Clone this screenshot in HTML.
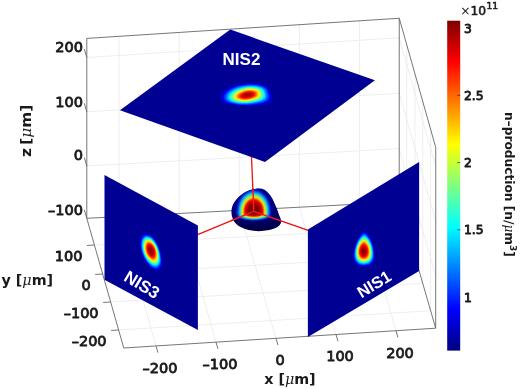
<!DOCTYPE html>
<html><head><meta charset="utf-8"><title>NIS figure</title>
<style>html,body{margin:0;padding:0;background:#fff;}svg{display:block;}</style>
</head><body>
<svg width="520" height="389" viewBox="0 0 520 389">
<defs>
<linearGradient id="jet" x1="0" y1="0" x2="0" y2="1">
<stop offset="0" stop-color="#800000"/>
<stop offset="0.125" stop-color="#ff0000"/>
<stop offset="0.375" stop-color="#ffff00"/>
<stop offset="0.5" stop-color="#80ff80"/>
<stop offset="0.625" stop-color="#00ffff"/>
<stop offset="0.875" stop-color="#0000ff"/>
<stop offset="1" stop-color="#000080"/>
</linearGradient>
<radialGradient id="spot" cx="0.5" cy="0.5" r="0.5">
<stop offset="0" stop-color="#8a0000"/>
<stop offset="0.18" stop-color="#d80000"/>
<stop offset="0.36" stop-color="#ff2a00"/>
<stop offset="0.48" stop-color="#ffd000"/>
<stop offset="0.56" stop-color="#a0ff60"/>
<stop offset="0.66" stop-color="#00e8ff"/>
<stop offset="0.78" stop-color="#0060ff"/>
<stop offset="0.9" stop-color="#0000c8"/>
<stop offset="1" stop-color="#000083"/>
</radialGradient>
<radialGradient id="core" cx="0.5" cy="0.5" r="0.5">
<stop offset="0" stop-color="#5a0000"/>
<stop offset="0.24" stop-color="#800000"/>
<stop offset="0.37" stop-color="#b80000"/>
<stop offset="0.46" stop-color="#f01000"/>
<stop offset="0.56" stop-color="#f8d800"/>
<stop offset="0.64" stop-color="#78f078"/>
<stop offset="0.73" stop-color="#10b8e8"/>
<stop offset="0.82" stop-color="#0838d8"/>
<stop offset="0.91" stop-color="#0000a0"/>
<stop offset="1" stop-color="#000086" stop-opacity="0"/>
</radialGradient>
<filter id="bl" x="0" y="0" width="520" height="389" filterUnits="userSpaceOnUse"><feGaussianBlur stdDeviation="0.6"/></filter>
<filter id="bl2" x="200" y="170" width="110" height="80" filterUnits="userSpaceOnUse"><feGaussianBlur stdDeviation="0.5"/></filter>
<clipPath id="blobclip"><path id="blobpath" d="M258.2,188.6 C263,188.3 266,190.5 268.3,193.1 C271.5,196.5 273,199.8 274.4,203.1 C276.2,207 277.8,210.8 279,214.7 C280.2,217.6 281.8,220.4 280.8,223.2 C279.6,226.2 276.6,227.8 272.9,229 C267.5,230.6 261.6,231.3 255.9,231.1 C250.2,230.6 244.8,229.4 240.5,227 C236.8,225 234.6,222.8 233.4,220 C231.8,216.8 231.2,213.4 231.5,210 C231.9,206 233.6,202.8 235.9,200 C238.4,196.8 241.6,194.4 245.1,192.3 C249.2,190.2 253.6,189 258.2,188.6 Z"/></clipPath>
<linearGradient id="blobshade" x1="0" y1="0" x2="0" y2="1">
<stop offset="0" stop-color="#00008a"/>
<stop offset="0.5" stop-color="#00007c"/>
<stop offset="0.75" stop-color="#00005a"/>
<stop offset="1" stop-color="#000038"/>
</linearGradient>
</defs>
<rect width="520" height="389" fill="#fff"/>
<line x1="156.00" y1="345.95" x2="119.10" y2="216.61" stroke="#eeeeee" stroke-width="1" />
<line x1="119.10" y1="216.61" x2="119.10" y2="36.32" stroke="#eeeeee" stroke-width="1" />
<line x1="216.00" y1="342.14" x2="179.18" y2="213.48" stroke="#eeeeee" stroke-width="1" />
<line x1="179.18" y1="213.48" x2="179.20" y2="32.44" stroke="#eeeeee" stroke-width="1" />
<line x1="276.00" y1="338.34" x2="239.27" y2="210.34" stroke="#eeeeee" stroke-width="1" />
<line x1="239.27" y1="210.34" x2="239.29" y2="28.57" stroke="#eeeeee" stroke-width="1" />
<line x1="336.00" y1="334.53" x2="299.36" y2="207.21" stroke="#eeeeee" stroke-width="1" />
<line x1="299.36" y1="207.21" x2="299.39" y2="24.69" stroke="#eeeeee" stroke-width="1" />
<line x1="396.00" y1="330.72" x2="359.44" y2="204.07" stroke="#eeeeee" stroke-width="1" />
<line x1="359.44" y1="204.07" x2="359.49" y2="20.81" stroke="#eeeeee" stroke-width="1" />
<line x1="94.41" y1="245.00" x2="406.71" y2="227.98" stroke="#eeeeee" stroke-width="1" />
<line x1="406.71" y1="227.98" x2="406.76" y2="44.86" stroke="#eeeeee" stroke-width="1" />
<line x1="102.67" y1="274.00" x2="414.88" y2="256.20" stroke="#eeeeee" stroke-width="1" />
<line x1="414.88" y1="256.20" x2="414.93" y2="73.76" stroke="#eeeeee" stroke-width="1" />
<line x1="110.65" y1="302.00" x2="422.75" y2="283.44" stroke="#eeeeee" stroke-width="1" />
<line x1="422.75" y1="283.44" x2="422.80" y2="101.66" stroke="#eeeeee" stroke-width="1" />
<line x1="118.62" y1="330.00" x2="430.63" y2="310.69" stroke="#eeeeee" stroke-width="1" />
<line x1="430.63" y1="310.69" x2="430.68" y2="129.56" stroke="#eeeeee" stroke-width="1" />
<line x1="86.80" y1="57.50" x2="399.24" y2="37.76" stroke="#eeeeee" stroke-width="1" />
<line x1="399.24" y1="37.76" x2="435.74" y2="166.68" stroke="#eeeeee" stroke-width="1" />
<line x1="86.80" y1="111.80" x2="399.23" y2="93.22" stroke="#eeeeee" stroke-width="1" />
<line x1="399.23" y1="93.22" x2="435.73" y2="221.23" stroke="#eeeeee" stroke-width="1" />
<line x1="86.80" y1="166.00" x2="399.21" y2="148.58" stroke="#eeeeee" stroke-width="1" />
<line x1="399.21" y1="148.58" x2="435.71" y2="275.67" stroke="#eeeeee" stroke-width="1" />
<line x1="86.80" y1="218.30" x2="86.80" y2="38.40" stroke="#686868" stroke-width="0.9" />
<line x1="86.80" y1="38.40" x2="399.25" y2="18.25" stroke="#686868" stroke-width="0.9" />
<line x1="399.25" y1="18.25" x2="399.20" y2="202.00" stroke="#686868" stroke-width="0.9" />
<line x1="399.25" y1="18.25" x2="435.75" y2="147.50" stroke="#686868" stroke-width="0.9" />
<line x1="435.75" y1="147.50" x2="435.70" y2="328.20" stroke="#686868" stroke-width="0.9" />
<line x1="86.80" y1="218.30" x2="123.75" y2="348.00" stroke="#686868" stroke-width="0.9" />
<line x1="123.75" y1="348.00" x2="435.70" y2="328.20" stroke="#686868" stroke-width="0.9" />
<line x1="435.70" y1="328.20" x2="399.20" y2="202.00" stroke="#686868" stroke-width="0.9" />
<line x1="86.80" y1="218.30" x2="399.20" y2="202.00" stroke="#686868" stroke-width="0.9" />
<line x1="156.00" y1="345.95" x2="157.91" y2="352.67" stroke="#686868" stroke-width="0.9" />
<line x1="216.00" y1="342.14" x2="217.91" y2="348.86" stroke="#686868" stroke-width="0.9" />
<line x1="276.00" y1="338.34" x2="277.91" y2="345.05" stroke="#686868" stroke-width="0.9" />
<line x1="336.00" y1="334.53" x2="337.91" y2="341.24" stroke="#686868" stroke-width="0.9" />
<line x1="396.00" y1="330.72" x2="397.91" y2="337.44" stroke="#686868" stroke-width="0.9" />
<line x1="94.41" y1="245.00" x2="86.92" y2="245.48" stroke="#686868" stroke-width="0.9" />
<line x1="102.67" y1="274.00" x2="95.18" y2="274.48" stroke="#686868" stroke-width="0.9" />
<line x1="110.65" y1="302.00" x2="103.16" y2="302.48" stroke="#686868" stroke-width="0.9" />
<line x1="118.62" y1="330.00" x2="111.14" y2="330.48" stroke="#686868" stroke-width="0.9" />
<line x1="86.80" y1="57.50" x2="84.30" y2="49.00" stroke="#686868" stroke-width="0.9" />
<line x1="86.80" y1="111.80" x2="84.30" y2="103.30" stroke="#686868" stroke-width="0.9" />
<line x1="86.80" y1="166.00" x2="84.30" y2="157.50" stroke="#686868" stroke-width="0.9" />
<line x1="86.80" y1="218.30" x2="84.30" y2="209.80" stroke="#686868" stroke-width="0.9" />
<polygon points="120,110.2 230.3,29.6 374.9,80.2 265,162" fill="#000092"/>
<line x1="253.80" y1="211.40" x2="251.50" y2="157.00" stroke="#f01010" stroke-width="1.3" />
<line x1="253.80" y1="211.40" x2="197.00" y2="234.80" stroke="#f01010" stroke-width="1.3" />
<line x1="253.80" y1="211.40" x2="309.00" y2="230.60" stroke="#f01010" stroke-width="1.3" />
<polygon points="104.5,175 197.9,225.5 197.9,330 104.5,279.7" fill="#000092"/>
<polygon points="307.9,229.6 419.1,162.1 419.1,271 307.9,337" fill="#000092"/>
<g filter="url(#bl)">
<polygon points="219.3,95.7 219.8,94.3 220.6,93.0 221.5,91.6 222.8,90.4 224.3,89.1 226.0,87.9 228.0,86.9 230.2,85.8 232.6,84.9 235.5,84.1 238.8,83.5 242.5,83.0 246.5,82.6 250.6,82.5 254.7,82.6 258.8,83.1 262.9,83.9 266.2,85.0 268.7,86.4 270.3,88.2 271.2,90.3 271.9,92.4 272.5,94.5 273.0,96.5 273.4,98.5 273.2,100.2 272.5,101.7 271.2,103.0 269.4,104.1 266.9,104.9 263.9,105.6 260.3,106.1 256.2,106.5 251.8,106.7 247.4,106.7 242.8,106.6 238.1,106.3 233.9,105.9 230.3,105.4 227.4,104.8 224.9,104.1 223.0,103.2 221.4,102.2 220.3,101.0 219.6,99.7 219.2,98.4 219.1,97.1" fill="#00009e"/>
<polygon points="220.9,95.8 221.3,94.5 222.0,93.3 222.9,92.1 224.0,90.9 225.4,89.7 226.9,88.7 228.7,87.6 230.8,86.7 233.1,85.8 235.8,85.0 239.0,84.3 242.6,83.7 246.7,83.2 250.8,83.1 254.9,83.3 258.8,83.8 262.6,84.5 265.6,85.6 267.8,86.9 269.3,88.6 270.1,90.5 270.7,92.5 271.3,94.4 271.7,96.2 272.0,98.0 271.8,99.6 271.2,101.0 270.0,102.2 268.3,103.2 266.1,104.0 263.3,104.7 259.9,105.3 256.0,105.7 251.7,106.0 247.2,106.1 242.6,106.0 238.0,105.7 234.1,105.3 230.8,104.8 228.1,104.2 225.9,103.5 224.2,102.7 222.8,101.8 221.7,100.7 221.1,99.5 220.8,98.3 220.7,97.1" fill="#0000c6"/>
<polygon points="222.4,95.9 222.8,94.7 223.4,93.6 224.2,92.5 225.2,91.4 226.5,90.3 227.9,89.3 229.6,88.4 231.5,87.4 233.6,86.6 236.1,85.8 239.1,85.0 242.7,84.4 246.9,83.9 251.0,83.7 254.9,83.9 258.6,84.4 262.2,85.2 264.9,86.2 267.0,87.4 268.3,88.9 269.0,90.7 269.6,92.5 270.0,94.2 270.4,95.9 270.7,97.6 270.5,99.1 269.8,100.4 268.7,101.5 267.2,102.4 265.2,103.2 262.6,103.8 259.5,104.4 255.7,104.9 251.6,105.3 247.1,105.5 242.5,105.5 238.0,105.2 234.4,104.7 231.4,104.2 228.9,103.6 227.0,103.0 225.4,102.2 224.1,101.4 223.2,100.4 222.6,99.3 222.3,98.2 222.2,97.0" fill="#0000f1"/>
<polygon points="223.9,96.0 224.3,94.9 224.9,93.9 225.6,92.9 226.5,91.9 227.6,90.9 228.9,90.0 230.4,89.1 232.1,88.2 234.1,87.4 236.5,86.6 239.4,85.8 242.9,85.1 247.0,84.5 251.1,84.4 254.9,84.6 258.4,85.1 261.7,85.8 264.2,86.7 266.0,87.9 267.3,89.3 267.9,91.0 268.4,92.6 268.8,94.2 269.1,95.7 269.3,97.2 269.1,98.5 268.5,99.7 267.5,100.7 266.1,101.6 264.2,102.3 261.9,103.0 259.0,103.6 255.4,104.2 251.4,104.6 246.9,104.9 242.4,104.9 238.1,104.6 234.7,104.1 232.0,103.6 229.8,103.1 228.0,102.5 226.6,101.8 225.5,101.0 224.6,100.1 224.1,99.1 223.9,98.0 223.8,97.0" fill="#002aff"/>
<polygon points="225.5,96.1 225.8,95.1 226.3,94.2 227.0,93.3 227.8,92.3 228.8,91.4 229.9,90.6 231.3,89.7 232.9,88.9 234.7,88.1 236.9,87.3 239.7,86.5 243.0,85.8 247.1,85.2 251.2,85.0 254.9,85.2 258.2,85.7 261.2,86.5 263.4,87.3 265.1,88.4 266.2,89.7 266.7,91.2 267.1,92.6 267.5,94.1 267.7,95.5 267.9,96.9 267.7,98.1 267.1,99.1 266.2,100.1 265.0,100.9 263.3,101.6 261.2,102.2 258.5,102.8 255.1,103.4 251.2,104.0 246.8,104.3 242.3,104.3 238.2,104.0 235.1,103.5 232.6,103.0 230.6,102.5 229.1,101.9 227.8,101.3 226.8,100.5 226.1,99.7 225.7,98.8 225.4,97.9 225.4,97.0" fill="#0063ff"/>
<polygon points="227.0,96.1 227.3,95.3 227.8,94.4 228.3,93.6 229.1,92.8 229.9,91.9 231.0,91.1 232.2,90.4 233.7,89.6 235.3,88.8 237.4,88.0 240.0,87.3 243.2,86.5 247.2,85.9 251.2,85.7 254.8,85.9 257.8,86.4 260.6,87.1 262.6,87.9 264.1,88.9 265.0,90.1 265.5,91.4 265.9,92.7 266.2,94.0 266.4,95.3 266.5,96.5 266.3,97.6 265.8,98.6 265.0,99.4 263.8,100.2 262.3,100.8 260.4,101.5 257.9,102.1 254.8,102.7 251.1,103.3 246.7,103.7 242.3,103.7 238.5,103.4 235.6,102.9 233.3,102.4 231.6,101.9 230.2,101.4 229.1,100.8 228.2,100.1 227.6,99.4 227.2,98.6 227.0,97.8 226.9,96.9" fill="#00a6ff"/>
<polygon points="228.6,96.1 228.8,95.4 229.2,94.6 229.7,93.9 230.4,93.1 231.1,92.4 232.1,91.7 233.2,90.9 234.5,90.2 236.0,89.5 237.9,88.7 240.3,88.0 243.4,87.2 247.3,86.6 251.2,86.4 254.6,86.6 257.4,87.1 259.9,87.7 261.7,88.5 263.0,89.4 263.9,90.4 264.3,91.7 264.6,92.8 264.9,94.0 265.0,95.1 265.1,96.2 264.9,97.2 264.4,98.1 263.7,98.8 262.7,99.5 261.3,100.1 259.6,100.7 257.4,101.4 254.4,102.0 250.9,102.7 246.7,103.1 242.4,103.1 238.7,102.8 236.1,102.3 234.1,101.8 232.5,101.4 231.3,100.9 230.3,100.3 229.6,99.7 229.0,99.1 228.7,98.4 228.5,97.6 228.5,96.9" fill="#00e9ff"/>
<polygon points="230.1,96.2 230.3,95.5 230.7,94.8 231.1,94.2 231.7,93.5 232.4,92.8 233.2,92.2 234.2,91.5 235.3,90.8 236.7,90.1 238.4,89.4 240.7,88.7 243.7,87.9 247.4,87.2 251.1,87.0 254.3,87.2 257.0,87.7 259.2,88.4 260.8,89.1 261.9,89.9 262.7,90.8 263.1,91.9 263.3,93.0 263.5,94.0 263.6,95.0 263.7,96.0 263.5,96.8 263.1,97.6 262.4,98.3 261.5,98.9 260.3,99.5 258.7,100.1 256.7,100.7 254.0,101.3 250.6,102.0 246.6,102.5 242.5,102.5 239.1,102.2 236.7,101.7 234.9,101.3 233.5,100.8 232.5,100.4 231.6,99.9 231.0,99.3 230.5,98.8 230.2,98.1 230.1,97.5 230.0,96.8" fill="#30ffcf"/>
<polygon points="231.7,96.2 231.9,95.6 232.2,95.0 232.5,94.4 233.0,93.8 233.6,93.2 234.3,92.6 235.2,92.0 236.2,91.4 237.4,90.8 239.0,90.1 241.1,89.3 243.9,88.6 247.5,87.9 251.0,87.7 254.0,87.9 256.5,88.4 258.4,89.0 259.8,89.6 260.8,90.4 261.5,91.2 261.8,92.2 262.0,93.1 262.2,94.0 262.2,94.9 262.2,95.7 262.1,96.5 261.7,97.2 261.1,97.8 260.3,98.3 259.2,98.9 257.9,99.4 256.1,100.0 253.6,100.7 250.4,101.4 246.6,101.9 242.7,101.9 239.5,101.6 237.3,101.1 235.8,100.7 234.6,100.3 233.7,99.9 233.0,99.4 232.4,98.9 232.0,98.4 231.8,97.9 231.6,97.3 231.6,96.7" fill="#76ff89"/>
<polygon points="233.2,96.1 233.4,95.6 233.6,95.1 234.0,94.6 234.4,94.1 234.9,93.6 235.5,93.0 236.2,92.5 237.1,91.9 238.2,91.3 239.7,90.7 241.6,90.0 244.2,89.2 247.5,88.6 250.8,88.4 253.6,88.6 255.9,89.1 257.6,89.6 258.8,90.2 259.7,90.9 260.2,91.6 260.5,92.4 260.7,93.2 260.8,94.0 260.8,94.8 260.8,95.5 260.6,96.2 260.3,96.8 259.8,97.3 259.1,97.8 258.2,98.3 257.0,98.8 255.4,99.4 253.1,100.1 250.2,100.7 246.6,101.3 242.9,101.3 240.0,101.0 238.1,100.5 236.7,100.1 235.7,99.7 234.9,99.4 234.3,99.0 233.8,98.6 233.5,98.1 233.3,97.6 233.2,97.1 233.2,96.6" fill="#c2ff3d"/>
<polygon points="234.8,96.1 234.9,95.7 235.1,95.2 235.4,94.8 235.7,94.3 236.2,93.9 236.7,93.4 237.3,92.9 238.1,92.4 239.1,91.9 240.3,91.3 242.1,90.6 244.5,89.9 247.6,89.3 250.6,89.1 253.2,89.3 255.2,89.7 256.7,90.2 257.8,90.8 258.5,91.4 258.9,92.0 259.2,92.7 259.3,93.4 259.4,94.1 259.4,94.7 259.4,95.4 259.2,95.9 258.9,96.5 258.5,96.9 257.9,97.4 257.1,97.8 256.1,98.3 254.6,98.8 252.6,99.4 249.9,100.1 246.6,100.6 243.2,100.7 240.5,100.3 238.8,99.9 237.7,99.5 236.8,99.2 236.2,98.9 235.7,98.5 235.3,98.2 235.0,97.8 234.8,97.4 234.7,96.9 234.7,96.5" fill="#ffee00"/>
<polygon points="236.3,96.0 236.4,95.7 236.6,95.3 236.8,94.9 237.1,94.6 237.5,94.2 237.9,93.8 238.5,93.4 239.1,92.9 239.9,92.4 241.1,91.9 242.6,91.3 244.8,90.6 247.6,90.0 250.4,89.9 252.7,90.0 254.5,90.4 255.8,90.9 256.6,91.3 257.2,91.8 257.6,92.4 257.8,93.0 257.9,93.6 258.0,94.1 258.0,94.7 257.9,95.2 257.8,95.7 257.5,96.2 257.1,96.6 256.6,96.9 256.0,97.3 255.1,97.7 253.9,98.2 252.1,98.8 249.7,99.5 246.6,100.0 243.5,100.0 241.1,99.7 239.7,99.3 238.7,99.0 238.0,98.7 237.4,98.4 237.0,98.1 236.7,97.8 236.5,97.5 236.4,97.1 236.3,96.8 236.3,96.4" fill="#ffa200"/>
<polygon points="237.9,96.0 238.0,95.7 238.1,95.4 238.3,95.1 238.5,94.8 238.8,94.4 239.2,94.1 239.6,93.7 240.2,93.3 240.9,92.9 241.8,92.4 243.2,91.9 245.1,91.3 247.6,90.7 250.1,90.6 252.2,90.7 253.7,91.1 254.8,91.5 255.5,91.9 256.0,92.3 256.3,92.8 256.4,93.3 256.5,93.7 256.5,94.2 256.5,94.7 256.5,95.1 256.3,95.5 256.1,95.9 255.8,96.2 255.4,96.6 254.8,96.9 254.1,97.3 253.1,97.7 251.5,98.3 249.4,98.9 246.6,99.3 243.9,99.4 241.8,99.1 240.6,98.7 239.7,98.4 239.2,98.2 238.8,97.9 238.4,97.7 238.2,97.4 238.0,97.1 237.9,96.8 237.9,96.6 237.9,96.3" fill="#ff5300"/>
<polygon points="239.5,95.9 239.5,95.7 239.6,95.4 239.8,95.2 239.9,94.9 240.2,94.6 240.5,94.4 240.8,94.1 241.3,93.7 241.8,93.4 242.6,92.9 243.8,92.5 245.4,91.9 247.6,91.5 249.8,91.3 251.5,91.5 252.8,91.8 253.7,92.1 254.3,92.5 254.7,92.8 254.9,93.2 255.0,93.6 255.1,94.0 255.1,94.3 255.1,94.7 255.0,95.1 254.9,95.4 254.7,95.7 254.4,95.9 254.1,96.2 253.7,96.5 253.1,96.8 252.2,97.2 250.9,97.7 249.1,98.3 246.7,98.7 244.4,98.7 242.6,98.5 241.5,98.2 240.9,97.9 240.4,97.7 240.1,97.4 239.9,97.2 239.7,97.0 239.5,96.8 239.5,96.6 239.4,96.4 239.4,96.1" fill="#ff1700"/>
<polygon points="241.0,95.8 241.1,95.6 241.1,95.4 241.2,95.2 241.4,95.0 241.6,94.8 241.8,94.6 242.0,94.4 242.4,94.1 242.8,93.8 243.5,93.4 244.4,93.0 245.8,92.6 247.6,92.2 249.4,92.1 250.9,92.2 251.9,92.4 252.6,92.7 253.0,93.0 253.3,93.3 253.5,93.6 253.6,93.9 253.6,94.2 253.6,94.5 253.6,94.8 253.5,95.0 253.4,95.3 253.3,95.5 253.1,95.7 252.8,95.9 252.5,96.2 252.0,96.4 251.4,96.8 250.3,97.2 248.8,97.6 246.8,98.0 244.8,98.0 243.4,97.8 242.6,97.6 242.0,97.3 241.7,97.2 241.5,97.0 241.3,96.8 241.2,96.7 241.1,96.5 241.0,96.3 241.0,96.1 241.0,96.0" fill="#e60000"/>
<polygon points="242.6,95.7 242.6,95.5 242.7,95.4 242.7,95.3 242.8,95.1 242.9,95.0 243.1,94.8 243.3,94.6 243.6,94.4 243.9,94.2 244.4,93.9 245.1,93.6 246.1,93.2 247.6,92.9 249.0,92.8 250.1,92.9 250.9,93.1 251.4,93.3 251.7,93.5 251.9,93.7 252.0,94.0 252.1,94.2 252.1,94.4 252.1,94.6 252.1,94.8 252.0,95.0 252.0,95.2 251.8,95.4 251.7,95.5 251.5,95.7 251.3,95.9 250.9,96.1 250.4,96.3 249.6,96.7 248.5,97.0 246.9,97.3 245.4,97.4 244.3,97.2 243.6,97.0 243.3,96.8 243.0,96.7 242.9,96.5 242.8,96.4 242.7,96.3 242.6,96.2 242.6,96.1 242.6,95.9 242.6,95.8" fill="#bf0000"/>
<polygon points="244.1,95.5 244.2,95.5 244.2,95.4 244.2,95.3 244.3,95.2 244.4,95.1 244.5,95.0 244.6,94.8 244.8,94.7 245.0,94.5 245.3,94.4 245.8,94.1 246.5,93.9 247.5,93.7 248.5,93.6 249.3,93.6 249.8,93.8 250.2,93.9 250.4,94.1 250.5,94.2 250.6,94.4 250.6,94.5 250.6,94.6 250.6,94.8 250.6,94.9 250.5,95.0 250.5,95.2 250.4,95.3 250.3,95.4 250.2,95.5 250.0,95.6 249.8,95.7 249.5,95.9 249.0,96.2 248.1,96.4 247.1,96.6 246.0,96.7 245.2,96.6 244.8,96.4 244.6,96.3 244.4,96.2 244.3,96.1 244.2,96.0 244.2,95.9 244.2,95.9 244.1,95.8 244.1,95.7 244.1,95.6" fill="#a00000"/>
<polygon points="245.7,95.4 245.7,95.3 245.7,95.3 245.7,95.3 245.8,95.2 245.8,95.2 245.9,95.1 245.9,95.0 246.0,95.0 246.1,94.9 246.3,94.8 246.5,94.7 246.9,94.5 247.5,94.4 248.0,94.4 248.4,94.4 248.7,94.5 248.9,94.5 249.0,94.6 249.0,94.7 249.1,94.8 249.1,94.8 249.1,94.9 249.1,95.0 249.1,95.0 249.0,95.1 249.0,95.2 249.0,95.2 248.9,95.3 248.9,95.3 248.8,95.4 248.7,95.5 248.5,95.6 248.2,95.7 247.8,95.8 247.2,96.0 246.6,96.0 246.2,95.9 246.0,95.8 245.9,95.8 245.8,95.7 245.8,95.7 245.7,95.6 245.7,95.6 245.7,95.5 245.7,95.5 245.7,95.5 245.7,95.4" fill="#8e0000"/>
<polygon points="367.1,231.6 368.4,233.1 369.5,234.7 370.6,236.5 371.5,238.5 372.4,240.6 373.2,242.8 373.9,245.2 374.5,247.6 375.1,250.2 375.4,252.5 375.7,254.7 375.7,256.6 375.6,258.3 375.3,259.9 374.8,261.4 374.2,262.7 373.3,264.0 372.2,265.1 370.8,266.0 369.1,266.6 367.2,267.1 365.3,267.4 363.5,267.5 361.8,267.5 360.1,267.2 358.5,266.7 357.2,266.0 355.9,265.2 354.9,264.1 354.0,262.9 353.4,261.5 352.9,259.9 352.6,258.2 352.5,256.4 352.5,254.5 352.8,252.5 353.2,250.4 353.8,248.2 354.5,246.0 355.2,243.7 356.1,241.4 357.1,239.2 358.0,237.3 358.9,235.6 359.8,234.1 360.8,232.9 361.8,231.8 362.7,231.0 363.7,230.3 364.8,230.2 365.9,230.7" fill="#00009e"/>
<polygon points="366.9,232.7 368.1,234.0 369.2,235.5 370.2,237.1 371.1,239.0 371.9,241.0 372.7,243.1 373.4,245.4 374.0,247.8 374.5,250.3 374.8,252.6 375.0,254.6 375.0,256.5 374.9,258.1 374.6,259.6 374.1,260.9 373.4,262.2 372.6,263.4 371.6,264.4 370.3,265.2 368.8,265.9 367.0,266.3 365.2,266.6 363.5,266.7 361.9,266.6 360.3,266.4 358.9,265.9 357.6,265.3 356.5,264.5 355.5,263.5 354.7,262.3 354.0,261.1 353.6,259.6 353.3,258.0 353.1,256.3 353.1,254.5 353.3,252.6 353.7,250.5 354.2,248.3 354.8,246.1 355.6,243.9 356.5,241.6 357.4,239.6 358.3,237.8 359.2,236.3 360.1,234.9 361.0,233.8 361.9,232.8 362.8,232.1 363.7,231.5 364.7,231.4 365.8,231.8" fill="#0000cf"/>
<polygon points="366.6,233.7 367.7,234.9 368.8,236.3 369.7,237.8 370.6,239.5 371.5,241.3 372.2,243.4 372.9,245.6 373.5,247.9 373.9,250.4 374.2,252.6 374.3,254.6 374.3,256.3 374.1,257.8 373.8,259.2 373.4,260.5 372.7,261.7 372.0,262.8 371.0,263.7 369.8,264.5 368.4,265.1 366.7,265.5 365.1,265.8 363.6,265.9 362.0,265.8 360.6,265.6 359.3,265.1 358.1,264.6 357.0,263.8 356.1,262.9 355.3,261.8 354.7,260.6 354.3,259.3 353.9,257.8 353.8,256.2 353.7,254.5 353.9,252.6 354.2,250.6 354.6,248.5 355.2,246.3 356.0,244.1 356.9,241.9 357.8,240.0 358.6,238.4 359.5,237.0 360.3,235.7 361.2,234.7 362.0,233.8 362.9,233.2 363.7,232.7 364.6,232.6 365.6,232.9" fill="#000cff"/>
<polygon points="366.4,234.8 367.4,235.8 368.4,237.1 369.3,238.4 370.2,240.0 371.0,241.7 371.7,243.7 372.4,245.8 373.0,248.1 373.4,250.5 373.6,252.6 373.6,254.5 373.6,256.2 373.4,257.6 373.1,258.9 372.6,260.1 372.1,261.2 371.4,262.2 370.4,263.0 369.3,263.7 368.0,264.3 366.5,264.7 365.0,265.0 363.6,265.1 362.2,265.0 360.8,264.7 359.6,264.4 358.5,263.8 357.5,263.1 356.7,262.3 356.0,261.3 355.4,260.2 354.9,258.9 354.6,257.5 354.4,256.0 354.4,254.4 354.4,252.6 354.7,250.7 355.1,248.6 355.6,246.5 356.4,244.3 357.2,242.3 358.1,240.5 359.0,239.0 359.8,237.7 360.6,236.6 361.4,235.6 362.2,234.9 362.9,234.3 363.7,233.8 364.6,233.8 365.4,234.1" fill="#0050ff"/>
<polygon points="366.2,235.8 367.1,236.8 368.0,237.9 368.9,239.1 369.7,240.5 370.5,242.2 371.3,244.0 371.9,246.0 372.4,248.3 372.8,250.6 373.0,252.7 373.0,254.4 372.9,256.0 372.7,257.3 372.4,258.5 371.9,259.6 371.4,260.6 370.7,261.5 369.9,262.3 368.9,263.0 367.7,263.5 366.3,263.9 364.9,264.1 363.6,264.2 362.3,264.1 361.1,263.9 359.9,263.6 358.9,263.0 358.0,262.4 357.2,261.6 356.6,260.7 356.0,259.7 355.6,258.6 355.3,257.3 355.0,255.9 355.0,254.3 355.0,252.6 355.2,250.8 355.5,248.8 356.1,246.7 356.8,244.6 357.6,242.6 358.5,241.0 359.3,239.6 360.1,238.4 360.8,237.4 361.6,236.6 362.3,235.9 363.0,235.4 363.7,235.0 364.5,234.9 365.3,235.2" fill="#009cff"/>
<polygon points="366.0,236.9 366.8,237.8 367.7,238.7 368.5,239.8 369.3,241.1 370.0,242.6 370.8,244.3 371.4,246.3 371.9,248.4 372.2,250.7 372.3,252.7 372.3,254.3 372.2,255.8 372.0,257.0 371.7,258.1 371.3,259.1 370.7,260.1 370.1,260.9 369.3,261.6 368.4,262.2 367.3,262.7 366.0,263.1 364.8,263.3 363.6,263.4 362.4,263.3 361.3,263.1 360.3,262.7 359.3,262.3 358.5,261.7 357.8,261.0 357.2,260.2 356.6,259.2 356.2,258.2 355.9,257.0 355.7,255.7 355.6,254.2 355.6,252.7 355.7,250.9 356.0,248.9 356.5,246.9 357.2,244.9 358.0,243.0 358.8,241.5 359.6,240.2 360.3,239.2 361.1,238.3 361.7,237.6 362.4,237.0 363.1,236.5 363.7,236.2 364.4,236.1 365.1,236.4" fill="#00ebff"/>
<polygon points="365.7,238.0 366.5,238.7 367.3,239.6 368.1,240.6 368.8,241.8 369.6,243.1 370.2,244.7 370.9,246.6 371.3,248.6 371.6,250.8 371.7,252.7 371.6,254.2 371.5,255.6 371.3,256.7 371.0,257.7 370.6,258.6 370.1,259.5 369.5,260.2 368.8,260.9 368.0,261.5 367.0,261.9 365.8,262.2 364.7,262.4 363.6,262.5 362.5,262.4 361.5,262.2 360.6,261.9 359.7,261.5 359.0,261.0 358.3,260.3 357.8,259.6 357.3,258.7 356.9,257.8 356.5,256.7 356.3,255.5 356.2,254.1 356.2,252.6 356.3,251.0 356.5,249.1 357.0,247.2 357.6,245.3 358.4,243.5 359.2,242.1 359.9,240.9 360.6,240.0 361.3,239.2 361.9,238.6 362.5,238.0 363.1,237.6 363.7,237.3 364.3,237.3 365.0,237.5" fill="#3bffc4"/>
<polygon points="365.5,239.1 366.3,239.7 367.0,240.5 367.7,241.4 368.4,242.4 369.1,243.6 369.7,245.1 370.3,246.9 370.8,248.8 371.0,250.9 371.0,252.6 371.0,254.1 370.8,255.3 370.6,256.4 370.3,257.3 369.9,258.1 369.5,258.9 369.0,259.6 368.3,260.2 367.5,260.7 366.6,261.1 365.6,261.4 364.6,261.6 363.6,261.6 362.6,261.6 361.7,261.4 360.9,261.1 360.1,260.7 359.5,260.2 358.8,259.7 358.3,259.0 357.9,258.2 357.5,257.3 357.2,256.4 356.9,255.3 356.8,254.0 356.7,252.6 356.8,251.0 357.0,249.3 357.4,247.4 358.0,245.6 358.8,244.0 359.5,242.7 360.2,241.6 360.9,240.8 361.5,240.1 362.1,239.6 362.6,239.1 363.2,238.8 363.7,238.5 364.3,238.5 364.9,238.7" fill="#8aff75"/>
<polygon points="365.3,240.2 366.0,240.7 366.6,241.4 367.3,242.1 367.9,243.1 368.6,244.2 369.2,245.6 369.8,247.2 370.2,249.0 370.4,251.0 370.4,252.6 370.3,254.0 370.1,255.1 369.9,256.0 369.6,256.9 369.3,257.6 368.9,258.3 368.4,258.9 367.8,259.5 367.1,259.9 366.3,260.3 365.4,260.6 364.5,260.7 363.6,260.8 362.7,260.7 361.9,260.5 361.2,260.3 360.5,259.9 359.9,259.5 359.3,259.0 358.9,258.4 358.5,257.7 358.1,256.9 357.8,256.0 357.6,255.0 357.4,253.9 357.3,252.6 357.4,251.1 357.5,249.4 357.9,247.7 358.5,246.0 359.2,244.5 359.9,243.3 360.6,242.4 361.2,241.6 361.7,241.0 362.2,240.6 362.7,240.2 363.2,239.9 363.7,239.7 364.2,239.7 364.7,239.8" fill="#dfff20"/>
<polygon points="365.1,241.3 365.7,241.7 366.3,242.3 366.9,243.0 367.5,243.8 368.1,244.8 368.7,246.0 369.2,247.5 369.6,249.2 369.7,251.0 369.7,252.6 369.6,253.8 369.5,254.8 369.2,255.7 369.0,256.4 368.7,257.1 368.3,257.7 367.9,258.2 367.3,258.7 366.7,259.1 366.0,259.5 365.2,259.7 364.4,259.8 363.6,259.9 362.9,259.8 362.1,259.7 361.5,259.5 360.9,259.1 360.3,258.8 359.8,258.3 359.4,257.8 359.0,257.2 358.7,256.5 358.4,255.7 358.2,254.8 358.0,253.7 357.9,252.6 357.9,251.2 358.1,249.6 358.4,248.0 358.9,246.4 359.6,245.0 360.3,244.0 360.9,243.1 361.4,242.5 361.9,242.0 362.4,241.6 362.8,241.3 363.3,241.0 363.7,240.9 364.1,240.8 364.6,241.0" fill="#ffcd00"/>
<polygon points="364.9,242.4 365.5,242.8 366.0,243.2 366.5,243.8 367.1,244.5 367.6,245.4 368.2,246.5 368.6,247.9 369.0,249.5 369.1,251.1 369.1,252.5 369.0,253.6 368.8,254.5 368.6,255.3 368.3,255.9 368.0,256.5 367.7,257.1 367.3,257.5 366.9,258.0 366.3,258.3 365.7,258.6 365.0,258.8 364.3,259.0 363.6,259.0 363.0,259.0 362.3,258.8 361.7,258.6 361.2,258.3 360.7,258.0 360.3,257.6 359.9,257.1 359.6,256.6 359.3,256.0 359.0,255.3 358.8,254.5 358.6,253.6 358.5,252.5 358.5,251.2 358.6,249.8 358.9,248.3 359.4,246.9 360.0,245.6 360.6,244.7 361.2,243.9 361.7,243.4 362.1,243.0 362.5,242.6 362.9,242.4 363.3,242.2 363.7,242.0 364.1,242.0 364.5,242.1" fill="#ff7d00"/>
<polygon points="364.8,243.5 365.2,243.8 365.7,244.2 366.1,244.7 366.6,245.3 367.1,246.1 367.6,247.1 368.0,248.3 368.3,249.7 368.5,251.2 368.4,252.4 368.3,253.4 368.1,254.2 367.9,254.9 367.7,255.5 367.4,256.0 367.1,256.4 366.8,256.8 366.4,257.2 365.9,257.5 365.4,257.8 364.8,258.0 364.2,258.1 363.6,258.1 363.0,258.1 362.5,257.9 362.0,257.8 361.6,257.5 361.1,257.2 360.8,256.9 360.4,256.5 360.1,256.0 359.9,255.5 359.6,254.9 359.4,254.2 359.2,253.4 359.1,252.4 359.1,251.3 359.2,250.0 359.5,248.7 359.9,247.4 360.4,246.2 361.0,245.4 361.5,244.8 361.9,244.3 362.3,244.0 362.7,243.7 363.0,243.5 363.4,243.3 363.7,243.2 364.0,243.2 364.4,243.3" fill="#ff3100"/>
<polygon points="364.6,244.6 365.0,244.9 365.4,245.2 365.8,245.6 366.2,246.1 366.6,246.8 367.1,247.6 367.5,248.7 367.7,249.9 367.8,251.3 367.8,252.3 367.6,253.2 367.5,253.9 367.3,254.5 367.1,255.0 366.9,255.4 366.6,255.8 366.3,256.1 366.0,256.4 365.6,256.7 365.1,256.9 364.6,257.1 364.1,257.2 363.6,257.2 363.1,257.2 362.7,257.1 362.3,256.9 361.9,256.7 361.5,256.5 361.2,256.2 360.9,255.8 360.7,255.5 360.4,255.0 360.2,254.5 360.0,253.9 359.9,253.2 359.7,252.4 359.7,251.4 359.8,250.2 360.0,249.0 360.4,247.9 360.9,246.9 361.4,246.2 361.8,245.6 362.2,245.3 362.5,245.0 362.8,244.8 363.1,244.6 363.4,244.5 363.7,244.4 363.9,244.4 364.2,244.5" fill="#fe0000"/>
<polygon points="364.4,245.7 364.7,245.9 365.1,246.2 365.4,246.5 365.8,246.9 366.1,247.5 366.5,248.2 366.8,249.1 367.1,250.2 367.1,251.3 367.1,252.3 367.0,253.0 366.8,253.6 366.7,254.0 366.5,254.5 366.3,254.8 366.1,255.1 365.8,255.4 365.5,255.7 365.2,255.9 364.8,256.1 364.4,256.2 364.0,256.3 363.6,256.3 363.2,256.3 362.8,256.2 362.5,256.1 362.2,255.9 361.9,255.7 361.6,255.5 361.4,255.2 361.2,254.9 361.0,254.5 360.8,254.1 360.6,253.6 360.5,253.0 360.4,252.3 360.3,251.4 360.4,250.4 360.6,249.4 360.9,248.4 361.3,247.6 361.7,247.0 362.1,246.5 362.4,246.2 362.7,246.0 363.0,245.9 363.2,245.7 363.4,245.6 363.7,245.6 363.9,245.6 364.1,245.6" fill="#d70000"/>
<polygon points="364.2,246.9 364.5,247.0 364.8,247.2 365.0,247.5 365.3,247.8 365.6,248.2 366.0,248.8 366.2,249.6 366.4,250.5 366.5,251.4 366.4,252.2 366.3,252.8 366.2,253.2 366.0,253.6 365.9,253.9 365.7,254.2 365.5,254.5 365.4,254.7 365.1,254.9 364.9,255.1 364.6,255.2 364.2,255.3 363.9,255.4 363.6,255.4 363.3,255.4 363.0,255.3 362.7,255.2 362.5,255.1 362.3,254.9 362.1,254.7 361.9,254.5 361.7,254.2 361.5,254.0 361.4,253.6 361.2,253.2 361.1,252.7 361.0,252.2 360.9,251.5 361.0,250.7 361.1,249.8 361.4,249.0 361.7,248.3 362.1,247.8 362.4,247.5 362.7,247.2 362.9,247.1 363.1,247.0 363.3,246.9 363.5,246.8 363.6,246.8 363.8,246.8 364.0,246.8" fill="#b60000"/>
<polygon points="364.1,248.0 364.3,248.1 364.5,248.2 364.7,248.4 364.9,248.7 365.1,249.0 365.4,249.5 365.6,250.0 365.7,250.7 365.8,251.4 365.7,252.0 365.6,252.5 365.5,252.9 365.4,253.1 365.3,253.4 365.2,253.6 365.0,253.8 364.9,253.9 364.7,254.1 364.5,254.2 364.3,254.3 364.1,254.4 363.8,254.5 363.6,254.5 363.4,254.5 363.2,254.4 363.0,254.3 362.8,254.2 362.6,254.1 362.5,254.0 362.3,253.8 362.2,253.6 362.0,253.4 361.9,253.1 361.8,252.8 361.7,252.5 361.6,252.0 361.6,251.5 361.6,250.9 361.7,250.2 361.9,249.6 362.2,249.0 362.5,248.7 362.7,248.4 362.9,248.3 363.1,248.2 363.2,248.1 363.4,248.0 363.5,248.0 363.6,247.9 363.8,247.9 363.9,248.0" fill="#9d0000"/>
<polygon points="363.9,249.2 364.0,249.2 364.2,249.3 364.3,249.4 364.5,249.6 364.6,249.8 364.8,250.1 365.0,250.5 365.1,251.0 365.1,251.5 365.0,251.9 365.0,252.2 364.9,252.5 364.8,252.7 364.7,252.8 364.7,253.0 364.6,253.1 364.5,253.2 364.4,253.3 364.2,253.4 364.1,253.5 363.9,253.5 363.8,253.5 363.6,253.6 363.5,253.5 363.3,253.5 363.2,253.4 363.1,253.4 363.0,253.3 362.8,253.2 362.7,253.1 362.7,253.0 362.6,252.8 362.5,252.7 362.4,252.5 362.3,252.2 362.3,251.9 362.2,251.5 362.2,251.1 362.3,250.6 362.4,250.2 362.6,249.8 362.8,249.6 363.0,249.4 363.1,249.3 363.3,249.2 363.4,249.2 363.5,249.2 363.5,249.1 363.6,249.1 363.7,249.1 363.8,249.1" fill="#8f0000"/>
<polygon points="363.8,250.3 363.8,250.4 363.9,250.4 364.0,250.5 364.1,250.5 364.1,250.7 364.2,250.8 364.3,251.0 364.4,251.3 364.4,251.5 364.4,251.8 364.3,251.9 364.3,252.1 364.2,252.2 364.2,252.2 364.1,252.3 364.1,252.4 364.0,252.4 364.0,252.5 363.9,252.5 363.8,252.6 363.8,252.6 363.7,252.6 363.6,252.6 363.5,252.6 363.5,252.6 363.4,252.6 363.3,252.5 363.3,252.5 363.2,252.4 363.2,252.4 363.1,252.3 363.1,252.3 363.0,252.2 363.0,252.1 362.9,251.9 362.9,251.8 362.9,251.6 362.9,251.3 362.9,251.1 363.0,250.9 363.1,250.7 363.2,250.5 363.3,250.5 363.4,250.4 363.4,250.4 363.5,250.3 363.5,250.3 363.6,250.3 363.6,250.3 363.7,250.3 363.7,250.3" fill="#880000"/>
<polygon points="148.6,233.4 150.5,234.3 152.3,235.5 153.8,237.0 155.3,238.8 156.5,240.9 157.7,243.1 158.7,245.4 159.7,247.9 160.5,250.4 161.2,252.8 161.9,255.1 162.4,257.3 162.8,259.4 163.0,261.4 163.1,263.2 163.0,264.8 162.7,266.3 162.3,267.6 161.7,268.7 160.8,269.7 159.9,270.6 158.8,271.2 157.7,271.5 156.5,271.5 155.3,271.3 154.0,270.8 152.6,270.1 151.2,269.1 149.7,267.9 148.3,266.4 146.9,264.7 145.6,262.8 144.3,260.7 143.1,258.4 142.1,256.1 141.1,253.7 140.3,251.2 139.7,248.8 139.3,246.5 139.1,244.3 139.1,242.2 139.3,240.3 139.6,238.6 140.0,237.1 140.7,235.8 141.4,234.8 142.2,233.9 143.2,233.2 144.2,232.7 145.5,232.6 146.9,232.8" fill="#00009e"/>
<polygon points="148.6,234.2 150.4,235.0 152.0,236.1 153.5,237.5 154.9,239.2 156.1,241.1 157.2,243.2 158.3,245.5 159.3,247.9 160.1,250.4 160.8,252.9 161.4,255.1 161.8,257.2 162.1,259.2 162.3,261.0 162.4,262.7 162.3,264.2 162.0,265.5 161.6,266.7 161.0,267.8 160.2,268.7 159.3,269.5 158.3,270.0 157.3,270.3 156.2,270.3 155.1,270.2 153.9,269.7 152.6,269.1 151.3,268.2 149.9,267.0 148.6,265.7 147.3,264.1 146.0,262.4 144.7,260.3 143.6,258.2 142.5,255.9 141.6,253.5 140.8,251.0 140.3,248.6 139.9,246.4 139.8,244.3 139.8,242.4 140.0,240.6 140.3,239.1 140.7,237.7 141.3,236.5 142.0,235.5 142.8,234.7 143.6,234.1 144.6,233.6 145.7,233.5 147.1,233.7" fill="#0000cf"/>
<polygon points="148.7,235.0 150.3,235.8 151.8,236.8 153.2,238.0 154.5,239.5 155.7,241.4 156.8,243.3 157.9,245.5 158.8,247.9 159.7,250.5 160.3,252.9 160.8,255.1 161.2,257.1 161.5,258.9 161.6,260.6 161.6,262.1 161.5,263.5 161.3,264.7 160.8,265.8 160.3,266.8 159.6,267.6 158.8,268.3 157.9,268.8 156.9,269.1 155.9,269.2 154.9,269.0 153.8,268.6 152.6,268.0 151.4,267.2 150.1,266.2 148.9,265.0 147.6,263.6 146.4,261.9 145.2,260.0 144.0,257.9 143.0,255.6 142.1,253.2 141.3,250.8 140.8,248.5 140.5,246.4 140.4,244.4 140.5,242.6 140.7,241.0 141.0,239.5 141.4,238.3 141.9,237.2 142.6,236.3 143.3,235.6 144.1,235.0 145.0,234.6 146.0,234.4 147.3,234.6" fill="#000cff"/>
<polygon points="148.7,235.9 150.2,236.6 151.6,237.4 152.9,238.6 154.1,240.0 155.3,241.6 156.4,243.5 157.4,245.6 158.4,247.9 159.3,250.5 159.9,252.9 160.3,255.0 160.6,256.9 160.8,258.6 160.9,260.2 160.9,261.6 160.8,262.8 160.5,263.9 160.1,264.9 159.6,265.8 159.0,266.6 158.2,267.2 157.4,267.7 156.6,267.9 155.7,268.0 154.7,267.8 153.7,267.5 152.6,267.0 151.5,266.3 150.3,265.4 149.2,264.3 148.0,263.0 146.8,261.4 145.6,259.6 144.5,257.6 143.4,255.3 142.5,253.0 141.9,250.6 141.4,248.4 141.2,246.3 141.1,244.5 141.2,242.8 141.4,241.3 141.6,240.0 142.1,238.9 142.6,237.9 143.2,237.1 143.8,236.4 144.5,235.9 145.3,235.5 146.3,235.4 147.4,235.5" fill="#0050ff"/>
<polygon points="148.8,236.8 150.2,237.3 151.4,238.1 152.6,239.2 153.8,240.4 154.9,241.9 155.9,243.7 157.0,245.7 158.0,248.0 158.8,250.5 159.4,252.8 159.8,254.9 160.0,256.7 160.2,258.3 160.3,259.7 160.2,261.0 160.1,262.1 159.8,263.1 159.5,264.0 159.0,264.8 158.4,265.5 157.7,266.1 157.0,266.5 156.2,266.7 155.4,266.8 154.5,266.7 153.6,266.4 152.6,265.9 151.6,265.3 150.5,264.5 149.4,263.5 148.3,262.3 147.2,260.9 146.0,259.2 144.9,257.2 143.9,255.1 143.0,252.7 142.4,250.4 142.0,248.3 141.8,246.4 141.7,244.6 141.8,243.1 142.0,241.7 142.3,240.5 142.7,239.5 143.2,238.6 143.7,237.9 144.3,237.3 145.0,236.8 145.7,236.4 146.6,236.3 147.6,236.4" fill="#009cff"/>
<polygon points="148.9,237.6 150.1,238.1 151.3,238.8 152.4,239.8 153.5,240.9 154.5,242.3 155.5,243.9 156.6,245.8 157.6,248.1 158.3,250.5 158.9,252.8 159.2,254.8 159.4,256.5 159.5,257.9 159.6,259.2 159.5,260.4 159.4,261.4 159.1,262.3 158.8,263.1 158.3,263.8 157.8,264.4 157.2,265.0 156.5,265.3 155.8,265.5 155.1,265.6 154.3,265.5 153.4,265.3 152.6,264.9 151.6,264.3 150.6,263.6 149.6,262.7 148.6,261.6 147.5,260.3 146.4,258.7 145.3,256.9 144.3,254.8 143.5,252.5 142.9,250.2 142.6,248.2 142.4,246.4 142.4,244.8 142.5,243.4 142.7,242.1 143.0,241.1 143.3,240.1 143.8,239.3 144.3,238.7 144.8,238.1 145.4,237.7 146.1,237.4 146.9,237.3 147.8,237.4" fill="#00ebff"/>
<polygon points="149.0,238.5 150.1,239.0 151.2,239.6 152.2,240.4 153.2,241.4 154.1,242.7 155.1,244.2 156.2,246.0 157.1,248.1 157.9,250.5 158.4,252.7 158.7,254.6 158.8,256.2 158.9,257.5 158.9,258.7 158.8,259.8 158.7,260.7 158.4,261.5 158.1,262.2 157.7,262.8 157.2,263.4 156.7,263.8 156.1,264.2 155.4,264.4 154.8,264.4 154.1,264.3 153.3,264.1 152.5,263.8 151.7,263.3 150.8,262.7 149.9,261.9 148.9,260.9 147.9,259.7 146.8,258.3 145.8,256.5 144.8,254.5 144.0,252.3 143.5,250.1 143.2,248.2 143.0,246.5 143.1,245.0 143.2,243.7 143.4,242.6 143.6,241.6 144.0,240.8 144.4,240.1 144.8,239.5 145.3,239.0 145.9,238.6 146.5,238.3 147.2,238.2 148.0,238.3" fill="#3bffc4"/>
<polygon points="149.1,239.4 150.1,239.8 151.0,240.3 152.0,241.0 152.9,241.9 153.8,243.1 154.7,244.5 155.7,246.2 156.6,248.2 157.4,250.5 157.8,252.6 158.1,254.4 158.2,255.9 158.2,257.1 158.2,258.2 158.1,259.1 158.0,259.9 157.7,260.6 157.5,261.3 157.1,261.8 156.7,262.3 156.2,262.7 155.6,263.0 155.1,263.2 154.5,263.2 153.8,263.2 153.2,263.0 152.5,262.7 151.7,262.3 150.9,261.8 150.0,261.1 149.2,260.2 148.2,259.1 147.2,257.7 146.2,256.1 145.3,254.2 144.6,252.1 144.0,250.0 143.8,248.2 143.7,246.6 143.7,245.3 143.8,244.1 144.0,243.1 144.3,242.2 144.6,241.5 145.0,240.8 145.4,240.3 145.8,239.9 146.3,239.5 146.8,239.3 147.5,239.2 148.2,239.2" fill="#8aff75"/>
<polygon points="149.2,240.3 150.1,240.6 150.9,241.1 151.8,241.7 152.6,242.5 153.5,243.5 154.4,244.8 155.3,246.4 156.2,248.3 156.9,250.5 157.3,252.5 157.5,254.1 157.6,255.5 157.6,256.6 157.5,257.6 157.4,258.4 157.3,259.1 157.1,259.7 156.8,260.3 156.5,260.8 156.1,261.2 155.6,261.6 155.2,261.8 154.7,262.0 154.2,262.0 153.6,262.0 153.0,261.9 152.4,261.6 151.7,261.3 151.0,260.8 150.2,260.2 149.4,259.4 148.5,258.5 147.6,257.2 146.6,255.7 145.8,253.8 145.1,251.8 144.6,249.9 144.4,248.2 144.3,246.7 144.4,245.5 144.5,244.4 144.7,243.6 144.9,242.8 145.2,242.1 145.6,241.6 145.9,241.1 146.3,240.8 146.7,240.5 147.2,240.2 147.8,240.1 148.4,240.2" fill="#dfff20"/>
<polygon points="149.3,241.2 150.1,241.5 150.8,241.9 151.6,242.4 152.3,243.1 153.1,244.0 154.0,245.1 154.9,246.6 155.7,248.4 156.3,250.5 156.7,252.3 156.9,253.9 156.9,255.1 156.9,256.1 156.9,257.0 156.8,257.7 156.6,258.3 156.4,258.9 156.2,259.3 155.9,259.8 155.5,260.1 155.1,260.4 154.7,260.7 154.3,260.8 153.9,260.8 153.4,260.8 152.9,260.7 152.3,260.5 151.7,260.2 151.1,259.8 150.4,259.3 149.6,258.6 148.8,257.8 147.9,256.6 147.1,255.2 146.3,253.5 145.6,251.6 145.2,249.8 145.0,248.2 145.0,246.9 145.0,245.8 145.2,244.9 145.3,244.1 145.6,243.4 145.8,242.8 146.1,242.4 146.4,242.0 146.8,241.6 147.2,241.4 147.6,241.2 148.1,241.1 148.6,241.1" fill="#ffcd00"/>
<polygon points="149.4,242.2 150.1,242.4 150.8,242.7 151.4,243.1 152.1,243.7 152.8,244.5 153.6,245.5 154.4,246.9 155.2,248.6 155.8,250.5 156.1,252.2 156.3,253.6 156.3,254.7 156.3,255.6 156.2,256.3 156.1,256.9 155.9,257.5 155.8,257.9 155.5,258.4 155.3,258.7 155.0,259.0 154.7,259.3 154.3,259.5 153.9,259.6 153.5,259.7 153.1,259.6 152.7,259.6 152.2,259.4 151.7,259.2 151.1,258.8 150.5,258.4 149.8,257.8 149.1,257.1 148.3,256.0 147.5,254.7 146.7,253.2 146.2,251.4 145.8,249.7 145.6,248.3 145.6,247.1 145.7,246.1 145.8,245.3 146.0,244.6 146.2,244.0 146.4,243.6 146.7,243.2 147.0,242.8 147.3,242.5 147.6,242.3 148.0,242.2 148.4,242.1 148.9,242.1" fill="#ff7d00"/>
<polygon points="149.6,243.1 150.2,243.3 150.7,243.5 151.3,243.9 151.9,244.4 152.5,245.1 153.2,246.0 154.0,247.2 154.7,248.7 155.3,250.4 155.5,252.0 155.7,253.2 155.7,254.2 155.6,255.0 155.5,255.7 155.4,256.2 155.3,256.6 155.1,257.0 154.9,257.4 154.7,257.7 154.5,257.9 154.2,258.2 153.9,258.3 153.6,258.4 153.2,258.5 152.9,258.5 152.5,258.4 152.1,258.3 151.7,258.1 151.2,257.8 150.6,257.4 150.0,257.0 149.4,256.3 148.7,255.4 147.9,254.2 147.2,252.8 146.7,251.2 146.4,249.7 146.2,248.4 146.2,247.4 146.3,246.5 146.5,245.8 146.6,245.2 146.8,244.7 147.0,244.3 147.2,244.0 147.5,243.7 147.7,243.4 148.0,243.3 148.3,243.1 148.7,243.0 149.1,243.0" fill="#ff3100"/>
<polygon points="149.7,244.0 150.2,244.2 150.7,244.4 151.2,244.7 151.7,245.1 152.3,245.7 152.9,246.4 153.6,247.5 154.2,248.8 154.7,250.4 154.9,251.8 155.0,252.9 155.0,253.7 154.9,254.4 154.9,254.9 154.8,255.4 154.6,255.8 154.5,256.1 154.3,256.4 154.1,256.6 153.9,256.8 153.7,257.0 153.4,257.1 153.2,257.2 152.9,257.3 152.6,257.3 152.3,257.2 152.0,257.1 151.6,257.0 151.2,256.8 150.7,256.5 150.2,256.1 149.6,255.5 149.0,254.7 148.3,253.7 147.7,252.4 147.3,251.0 147.0,249.7 146.9,248.6 146.9,247.6 147.0,246.9 147.1,246.3 147.2,245.8 147.4,245.4 147.6,245.1 147.8,244.8 148.0,244.5 148.2,244.3 148.4,244.2 148.7,244.1 149.0,244.0 149.3,244.0" fill="#fe0000"/>
<polygon points="149.9,245.0 150.3,245.1 150.7,245.3 151.1,245.5 151.5,245.8 152.0,246.3 152.5,246.9 153.1,247.8 153.7,249.0 154.1,250.3 154.3,251.5 154.4,252.5 154.3,253.2 154.3,253.8 154.2,254.2 154.1,254.6 154.0,254.9 153.9,255.1 153.7,255.4 153.6,255.5 153.4,255.7 153.2,255.9 153.0,256.0 152.8,256.0 152.6,256.1 152.4,256.1 152.1,256.1 151.8,256.0 151.5,255.9 151.2,255.7 150.8,255.5 150.4,255.2 149.9,254.7 149.3,254.0 148.8,253.1 148.2,252.1 147.8,250.9 147.6,249.7 147.5,248.7 147.5,248.0 147.6,247.3 147.7,246.8 147.9,246.4 148.0,246.1 148.2,245.8 148.3,245.6 148.5,245.4 148.7,245.3 148.9,245.1 149.1,245.0 149.3,245.0 149.6,245.0" fill="#d70000"/>
<polygon points="150.1,246.0 150.4,246.0 150.7,246.1 151.0,246.3 151.4,246.6 151.8,246.9 152.2,247.5 152.7,248.2 153.2,249.2 153.5,250.3 153.7,251.3 153.7,252.1 153.7,252.7 153.6,253.1 153.5,253.4 153.5,253.7 153.4,254.0 153.3,254.2 153.2,254.3 153.0,254.5 152.9,254.6 152.7,254.7 152.6,254.8 152.4,254.9 152.3,254.9 152.1,254.9 151.9,254.9 151.7,254.8 151.4,254.8 151.2,254.6 150.9,254.5 150.5,254.2 150.1,253.8 149.7,253.3 149.2,252.6 148.8,251.7 148.4,250.7 148.2,249.7 148.2,248.9 148.2,248.3 148.3,247.8 148.4,247.4 148.5,247.1 148.6,246.8 148.7,246.6 148.8,246.4 149.0,246.3 149.1,246.2 149.3,246.1 149.4,246.0 149.6,246.0 149.8,245.9" fill="#b60000"/>
<polygon points="150.3,246.9 150.5,247.0 150.7,247.1 151.0,247.2 151.2,247.4 151.5,247.6 151.9,248.0 152.3,248.6 152.6,249.4 152.9,250.2 153.0,251.0 153.0,251.6 153.0,252.1 153.0,252.4 152.9,252.7 152.8,252.9 152.8,253.0 152.7,253.2 152.6,253.3 152.5,253.4 152.4,253.5 152.3,253.6 152.2,253.6 152.1,253.7 151.9,253.7 151.8,253.7 151.7,253.7 151.5,253.7 151.3,253.6 151.1,253.5 150.9,253.4 150.6,253.2 150.3,252.9 150.0,252.5 149.6,252.0 149.3,251.3 149.0,250.5 148.9,249.8 148.8,249.1 148.9,248.7 148.9,248.3 149.0,248.0 149.1,247.7 149.2,247.6 149.3,247.4 149.4,247.3 149.5,247.2 149.6,247.1 149.7,247.0 149.8,247.0 149.9,246.9 150.1,246.9" fill="#9d0000"/>
<polygon points="150.5,247.9 150.6,247.9 150.8,248.0 150.9,248.1 151.1,248.2 151.3,248.4 151.5,248.6 151.8,249.0 152.1,249.6 152.3,250.2 152.3,250.7 152.4,251.1 152.3,251.4 152.3,251.7 152.2,251.8 152.2,252.0 152.1,252.1 152.1,252.2 152.0,252.2 152.0,252.3 151.9,252.4 151.8,252.4 151.8,252.4 151.7,252.5 151.6,252.5 151.5,252.5 151.4,252.5 151.3,252.5 151.2,252.5 151.1,252.4 150.9,252.3 150.7,252.2 150.5,252.0 150.3,251.7 150.0,251.4 149.8,250.9 149.6,250.3 149.5,249.8 149.5,249.4 149.5,249.1 149.6,248.8 149.6,248.6 149.7,248.5 149.7,248.3 149.8,248.2 149.9,248.2 149.9,248.1 150.0,248.0 150.1,248.0 150.1,248.0 150.2,247.9 150.3,247.9" fill="#8f0000"/>
<polygon points="150.7,248.9 150.7,248.9 150.8,248.9 150.9,249.0 151.0,249.0 151.1,249.1 151.2,249.3 151.4,249.5 151.5,249.8 151.6,250.1 151.7,250.4 151.7,250.6 151.6,250.8 151.6,250.9 151.6,251.0 151.6,251.0 151.5,251.1 151.5,251.1 151.5,251.2 151.5,251.2 151.4,251.2 151.4,251.3 151.3,251.3 151.3,251.3 151.3,251.3 151.2,251.3 151.2,251.3 151.1,251.3 151.1,251.3 151.0,251.3 150.9,251.2 150.8,251.2 150.7,251.1 150.6,250.9 150.4,250.7 150.3,250.5 150.2,250.2 150.2,249.9 150.2,249.7 150.2,249.5 150.2,249.4 150.2,249.3 150.3,249.2 150.3,249.1 150.3,249.1 150.4,249.0 150.4,249.0 150.4,249.0 150.5,249.0 150.5,248.9 150.6,248.9 150.6,248.9" fill="#880000"/>
</g>
<g clip-path="url(#blobclip)">
<rect x="225" y="185" width="62" height="50" fill="url(#blobshade)"/>
<clipPath id="upc"><path d="M253.8,211.4 L197.0,234.8 L200,180 L300,180 L309.0,230.6 Z"/></clipPath>
<clipPath id="loc"><path d="M253.8,211.4 L197.0,234.8 L200,250 L300,250 L309.0,230.6 Z"/></clipPath>
<g filter="url(#bl2)"><g clip-path="url(#upc)"><ellipse cx="253.8" cy="211.4" rx="19.5" ry="25" fill="url(#core)"/></g>
<g clip-path="url(#loc)"><ellipse cx="253.8" cy="211.4" rx="24" ry="10.5" fill="url(#core)"/></g></g>
</g>
<line x1="253.80" y1="211.40" x2="252.90" y2="188.00" stroke="#ff1818" stroke-width="1.5" />
<line x1="253.80" y1="211.40" x2="231.00" y2="220.79" stroke="#ff1818" stroke-width="1.5" />
<line x1="253.80" y1="211.40" x2="281.00" y2="220.86" stroke="#ff1818" stroke-width="1.5" />
<text x="222.6" y="65" font-family="Liberation Sans, Arial, sans-serif" font-weight="bold" font-size="17" fill="#fff">NIS2</text>
<text transform="translate(122.8,280) rotate(31)" font-family="Liberation Sans, Arial, sans-serif" font-weight="bold" font-size="17" fill="#fff">NIS3</text>
<text transform="translate(361.4,298.4) rotate(-31.2)" font-family="Liberation Sans, Arial, sans-serif" font-weight="bold" font-size="17" fill="#fff" style="font-size:16.4px">NIS1</text>
<text x="160.0" y="372.8" text-anchor="middle" font-size="14.5" font-family="DejaVu Sans, Liberation Sans, sans-serif" stroke="#1a1a1a" stroke-width="0.85" stroke-linejoin="round" fill="#1a1a1a">–200</text>
<text x="220.0" y="368.9" text-anchor="middle" font-size="14.5" font-family="DejaVu Sans, Liberation Sans, sans-serif" stroke="#1a1a1a" stroke-width="0.85" stroke-linejoin="round" fill="#1a1a1a">–100</text>
<text x="280.0" y="365.1" text-anchor="middle" font-size="14.5" font-family="DejaVu Sans, Liberation Sans, sans-serif" stroke="#1a1a1a" stroke-width="0.85" stroke-linejoin="round" fill="#1a1a1a">0</text>
<text x="340.0" y="361.3" text-anchor="middle" font-size="14.5" font-family="DejaVu Sans, Liberation Sans, sans-serif" stroke="#1a1a1a" stroke-width="0.85" stroke-linejoin="round" fill="#1a1a1a">100</text>
<text x="400.0" y="357.5" text-anchor="middle" font-size="14.5" font-family="DejaVu Sans, Liberation Sans, sans-serif" stroke="#1a1a1a" stroke-width="0.85" stroke-linejoin="round" fill="#1a1a1a">200</text>
<text x="82.4" y="261.0" text-anchor="end" font-size="14.5" font-family="DejaVu Sans, Liberation Sans, sans-serif" stroke="#1a1a1a" stroke-width="0.85" stroke-linejoin="round" fill="#1a1a1a">100</text>
<text x="90.7" y="290.0" text-anchor="end" font-size="14.5" font-family="DejaVu Sans, Liberation Sans, sans-serif" stroke="#1a1a1a" stroke-width="0.85" stroke-linejoin="round" fill="#1a1a1a">0</text>
<text x="98.6" y="318.0" text-anchor="end" font-size="14.5" font-family="DejaVu Sans, Liberation Sans, sans-serif" stroke="#1a1a1a" stroke-width="0.85" stroke-linejoin="round" fill="#1a1a1a">–100</text>
<text x="106.6" y="346.0" text-anchor="end" font-size="14.5" font-family="DejaVu Sans, Liberation Sans, sans-serif" stroke="#1a1a1a" stroke-width="0.85" stroke-linejoin="round" fill="#1a1a1a">–200</text>
<text x="83.0" y="52.3" text-anchor="end" font-size="14.5" font-family="DejaVu Sans, Liberation Sans, sans-serif" stroke="#1a1a1a" stroke-width="0.85" stroke-linejoin="round" fill="#1a1a1a">200</text>
<text x="83.0" y="106.5" text-anchor="end" font-size="14.5" font-family="DejaVu Sans, Liberation Sans, sans-serif" stroke="#1a1a1a" stroke-width="0.85" stroke-linejoin="round" fill="#1a1a1a">100</text>
<text x="83.0" y="160.3" text-anchor="end" font-size="14.5" font-family="DejaVu Sans, Liberation Sans, sans-serif" stroke="#1a1a1a" stroke-width="0.85" stroke-linejoin="round" fill="#1a1a1a">0</text>
<text x="83.0" y="214.6" text-anchor="end" font-size="14.5" font-family="DejaVu Sans, Liberation Sans, sans-serif" stroke="#1a1a1a" stroke-width="0.85" stroke-linejoin="round" fill="#1a1a1a">–100</text>
<text x="1.5" y="284.9" font-size="14.3" font-family="DejaVu Sans, Liberation Sans, sans-serif" font-weight="bold" fill="#1a1a1a">y [<tspan font-family="DejaVu Serif, Liberation Serif, serif" font-style="italic" font-weight="normal">μ</tspan>m]</text>
<text x="264.2" y="384" font-size="14.3" font-family="DejaVu Sans, Liberation Sans, sans-serif" font-weight="bold" fill="#1a1a1a">x [<tspan font-family="DejaVu Serif, Liberation Serif, serif" font-style="italic" font-weight="normal">μ</tspan>m]</text>
<text transform="translate(30.6,157) rotate(-90) scale(1.075,1)" word-spacing="-1.8" font-size="14.3" font-family="DejaVu Sans, Liberation Sans, sans-serif" font-weight="bold" fill="#1a1a1a">z [<tspan font-family="DejaVu Serif, Liberation Serif, serif" font-style="italic" font-weight="normal">μ</tspan>m]</text>
<rect x="447.2" y="20.7" width="13" height="329.9" fill="url(#jet)"/>
<line x1="457.20" y1="28.00" x2="460.20" y2="28.00" stroke="#333" stroke-width="0.8" />
<text x="464.0" y="32.5" text-anchor="start" font-size="12.3" font-family="DejaVu Sans, Liberation Sans, sans-serif" stroke="#1a1a1a" stroke-width="0.85" stroke-linejoin="round" fill="#1a1a1a">3</text>
<line x1="457.20" y1="95.40" x2="460.20" y2="95.40" stroke="#333" stroke-width="0.8" />
<text x="464.0" y="99.9" text-anchor="start" font-size="12.3" font-family="DejaVu Sans, Liberation Sans, sans-serif" stroke="#1a1a1a" stroke-width="0.85" stroke-linejoin="round" fill="#1a1a1a">2.5</text>
<line x1="457.20" y1="162.60" x2="460.20" y2="162.60" stroke="#333" stroke-width="0.8" />
<text x="464.0" y="167.1" text-anchor="start" font-size="12.3" font-family="DejaVu Sans, Liberation Sans, sans-serif" stroke="#1a1a1a" stroke-width="0.85" stroke-linejoin="round" fill="#1a1a1a">2</text>
<line x1="457.20" y1="229.80" x2="460.20" y2="229.80" stroke="#333" stroke-width="0.8" />
<text x="464.0" y="234.3" text-anchor="start" font-size="12.3" font-family="DejaVu Sans, Liberation Sans, sans-serif" stroke="#1a1a1a" stroke-width="0.85" stroke-linejoin="round" fill="#1a1a1a">1.5</text>
<line x1="457.20" y1="297.50" x2="460.20" y2="297.50" stroke="#333" stroke-width="0.8" />
<text x="464.0" y="302.0" text-anchor="start" font-size="12.3" font-family="DejaVu Sans, Liberation Sans, sans-serif" stroke="#1a1a1a" stroke-width="0.85" stroke-linejoin="round" fill="#1a1a1a">1</text>
<text x="460.2" y="15.2" font-size="12.3" font-family="DejaVu Sans, Liberation Sans, sans-serif" fill="#1a1a1a">×<tspan stroke="#1a1a1a" stroke-width="0.6">10</tspan><tspan dy="-6.0" dx="0.3" font-size="9.2" stroke="#1a1a1a" stroke-width="0.6">11</tspan></text>
<text transform="translate(505.4,111.9) rotate(90)" font-size="12.2" font-family="DejaVu Sans, Liberation Sans, sans-serif" font-weight="bold" fill="#1a1a1a">n–production [n/<tspan font-family="DejaVu Serif, Liberation Serif, serif" font-style="italic" font-weight="normal">μ</tspan>m<tspan dy="-4.5" font-size="9">3</tspan><tspan dy="4.5">]</tspan></text>
</svg>
</body></html>
